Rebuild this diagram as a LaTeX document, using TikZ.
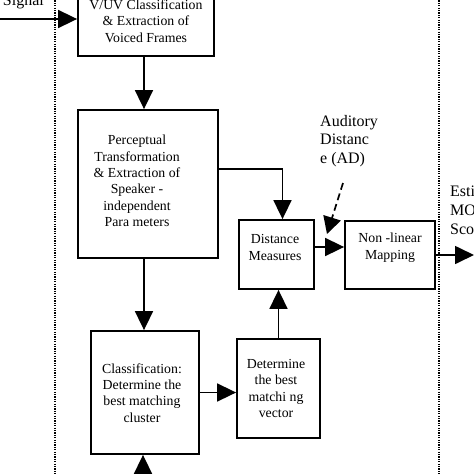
\documentclass[tikz,border=0pt]{standalone}
\usepackage{fontspec}
\setmainfont{Liberation Serif}
\usetikzlibrary{arrows.meta}
\begin{document}
\begin{tikzpicture}[x=1pt,y=-1pt,
  box/.style={draw,line width=1.8pt,rectangle,inner sep=0pt},
  txt/.style={font=\fontsize{13.8}{16.4}\selectfont,align=center,inner sep=0pt},
  big/.style={font=\fontsize{16}{18.8}\selectfont,align=left,inner sep=0pt},
  arr/.style={line width=1.7pt,-{Triangle[length=19pt,width=18pt]}},
  dotline/.style={line width=1.2pt,dash pattern=on 1.2pt off 1.2pt}]
\useasboundingbox (0,0) rectangle (474,474);
\clip (0,0) rectangle (474,474);
% dotted boundaries
\coordinate (d1t) at (55,-2);
\coordinate (d1b) at (55,476);
\coordinate (d2t) at (439,-2);
\coordinate (d2b) at (439,476);
\draw[dotline] (d1t) -- (d1b);
\draw[dotline] (d2t) -- (d2b);
% boxes
\node[box,minimum width=136pt,minimum height=70pt,txt] (b1) at (146,21)
  {V/UV Classification\\\& Extraction of\\Voiced Frames};
\node[box,minimum width=140pt,minimum height=148pt] (b2) at (148,184) {};
\node[txt] (b2t) at (137,181) {Perceptual\\Transformation\\\& Extraction of\\Speaker -\\independent\\Para meters};
\node[box,minimum width=75pt,minimum height=69pt] (dm) at (276.5,254.5) {};
\node[txt] (dmt) at (275,247.5) {Distance\\Measures};
\node[box,minimum width=90pt,minimum height=68pt] (nl) at (390,255) {};
\node[txt] (nlt) at (390,247.5) {Non -linear\\Mapping};
\node[box,minimum width=108pt,minimum height=123pt] (cl) at (145,392.5) {};
\node[txt] (clt) at (142,393) {Classification:\\Determine the\\best matching\\cluster};
\node[box,minimum width=83pt,minimum height=99pt] (dt) at (278.5,388.5) {};
\node[txt] (dtt) at (276,388.5) {Determine\\the best\\matchi ng\\vector};
% labels
\node[big,anchor=base east] (sig) at (44,5) {Signal};
\node[big,anchor=west] (ad) at (320,141) {Auditory\\Distanc\\e (AD)};
\node[big,anchor=west] (mos) at (450,210) {Estimated\\MOS\\Score};
% connectors
\coordinate (sig0) at (-5,19);
\coordinate (outE) at (474,255);
\coordinate (inB) at (143,490);
\coordinate (adS) at (343,183);
\coordinate (adE) at (327,234);
\draw[arr] (sig0) -- (sig0 -| b1.west);
\draw[arr] ([xshift=-2pt]b1.south) -- ([xshift=-2pt]b1.south |- b2.north);
\draw[arr] ([yshift=15pt]b2.east) -| ([xshift=6pt]dm.north);
\draw[arr] ([yshift=7.5pt]dm.east) -- ([yshift=7.5pt]dm.east -| nl.west);
\draw[arr] (nl.east) -- (outE);
\draw[line width=1.7pt,dash pattern=on 7pt off 4pt,-{Triangle[length=17pt,width=18pt]}] (adS) -- (adE);
\draw[arr] ([xshift=-4pt]b2.south) -- ([xshift=-4pt]b2.south |- cl.north);
\draw[arr] (cl.east) -- (cl.east -| dt.west);
\draw[arr] (dt.north) -- (dt.north |- dm.south);
\draw[arr] (inB) -- (inB |- cl.south);
\end{tikzpicture}
\end{document}
